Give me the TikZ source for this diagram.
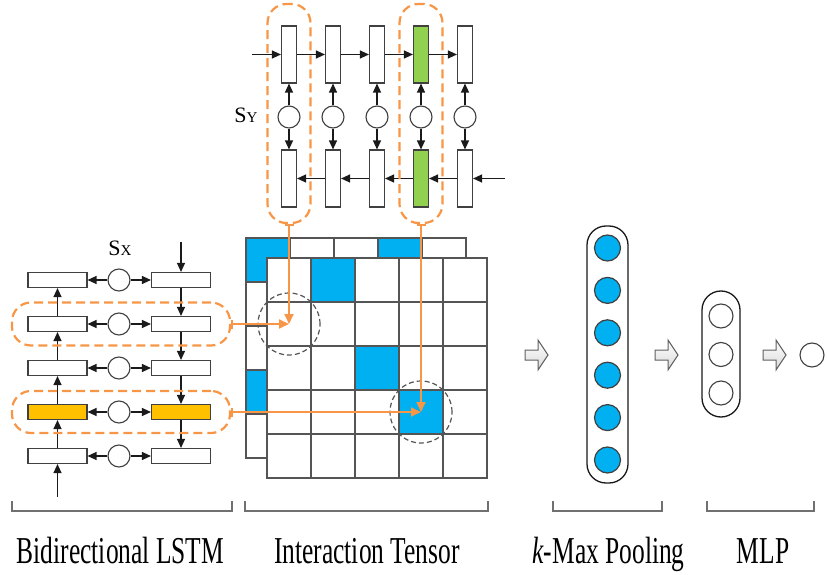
\documentclass[tikz,border=0pt]{standalone}
\usepackage{fontspec}
\setmainfont{Liberation Serif}
\newfontfamily\labfont[FakeStretch=0.67]{Liberation Serif}
\usetikzlibrary{arrows.meta,shapes.geometric,calc}
\definecolor{boxc}{HTML}{404040}
\definecolor{gridc}{HTML}{555555}
\definecolor{cblue}{HTML}{00B0F0}
\definecolor{cgreen}{HTML}{92D050}
\definecolor{cgold}{HTML}{FFC000}
\definecolor{corange}{HTML}{F79646}
\definecolor{brk}{HTML}{707070}
\definecolor{arrc}{HTML}{1A1A1A}
\begin{document}
\begin{tikzpicture}[x=1pt,y=-1pt,
  vbox/.style={draw=boxc,line width=1.1pt,minimum width=15pt,minimum height=57pt,inner sep=0pt},
  hbox/.style={draw=boxc,line width=1.1pt,minimum width=59pt,minimum height=15pt,inner sep=0pt},
  gate/.style={circle,draw=boxc,line width=1.1pt,fill=white,minimum size=22pt,inner sep=0pt},
  arr/.style={draw=arrc,line width=1.2pt,-{Triangle[length=9pt,width=8pt]}},
  cell/.style={draw=gridc,line width=1.1pt,minimum size=44pt,inner sep=0pt},
  dcirc/.style={circle,draw=gridc,dashed,dash pattern=on 5pt off 3pt,line width=1.2pt,minimum size=62pt,inner sep=0pt},
  orbox/.style={draw=corange,line width=2.2pt,dash pattern=on 9pt off 5pt,rounded corners=19pt,inner sep=0pt},
  oarr/.style={draw=corange,line width=1.8pt,{Bar[width=9pt]}-{Triangle[length=10pt,width=9pt]}},
  pcirc/.style={circle,draw=boxc,line width=1.2pt,fill=cblue,minimum size=26pt,inner sep=0pt},
  mcirc/.style={circle,draw=boxc,line width=1.1pt,fill=white,minimum size=24pt,inner sep=0pt},
  column/.style={draw=arrc,line width=1.3pt,rounded corners=19pt,inner sep=0pt},
  blockarr/.style={draw=gray!75!black,line width=1pt,line join=miter,top color=white,bottom color=gray!30},
  brack/.style={draw=brk,line width=1.4pt},
  lab/.style={font=\labfont\fontsize{38}{40}\selectfont,anchor=base,inner sep=0pt}
]
\useasboundingbox (0,0) rectangle (828,575);

% ---------- top bidirectional LSTM (S_Y) ----------
\foreach \i/\x/\f in {1/289/white,2/333/white,3/377/white,4/421/cgreen,5/465/white}{
  \node[vbox,fill=\f] (yt\i) at (\x,54.5) {};
  \node[gate] (yc\i) at (\x,117) {};
  \node[vbox,fill=\f] (yb\i) at (\x,178.5) {};
  \draw[arr] (yc\i) -- (yt\i);
  \draw[arr] (yc\i) -- (yb\i);
}
\coordinate (yin) at (252,54.5);
\coordinate (ybin) at (505,178.5);
\draw[arr] (yin) -- (yt1.west);
\foreach \a/\b in {1/2,2/3,3/4,4/5}{
  \draw[arr] (yt\a.east) -- (yt\b.west);
  \draw[arr] (yb\b.west) -- (yb\a.east);
}
\draw[arr] (ybin) -- (yb5.east);
\node (sy) at (246,115) {\fontsize{22}{24}\selectfont S\fontsize{15}{16}\selectfont Y};

% ---------- left bidirectional LSTM (S_X) ----------
\foreach \i/\y/\f in {1/280/white,2/324/white,3/368/white,4/412/cgold,5/456/white}{
  \node[hbox,fill=\f] (xl\i) at (57.5,\y) {};
  \node[gate] (xc\i) at (119,\y) {};
  \node[hbox,fill=\f] (xr\i) at (181,\y) {};
  \draw[arr] (xc\i) -- (xl\i);
  \draw[arr] (xc\i) -- (xr\i);
}
\coordinate (xlin) at (57.5,497);
\coordinate (xrin) at (181,242);
\draw[arr] (xlin) -- (xl5.south);
\draw[arr] (xrin) -- (xr1.north);
\foreach \a/\b in {1/2,2/3,3/4,4/5}{
  \draw[arr] (xl\b.north) -- (xl\a.south);
  \draw[arr] (xr\a.south) -- (xr\b.north);
}
\node (sx) at (120,248) {\fontsize{22}{24}\selectfont S\fontsize{15}{16}\selectfont X};

% ---------- interaction tensor ----------
\foreach \c in {0,...,4}{
  \pgfmathtruncatemacro\isb{(\c==0)||(\c==3)}
  \ifnum\isb=1 \def\fc{cblue}\else\def\fc{white}\fi
  \node[cell,fill=\fc] (b-0-\c) at ({268+44*\c},260) {};
}
\foreach \r in {1,...,4}{
  \pgfmathtruncatemacro\isb{(\r==3)}
  \ifnum\isb=1 \def\fc{cblue}\else\def\fc{white}\fi
  \node[cell,fill=\fc] (b-\r-0) at (268,{260+44*\r}) {};
}
\foreach \r in {0,...,4}{
  \foreach \c in {0,...,4}{
    \pgfmathtruncatemacro\isb{(\r==0&&\c==1)||(\r==2&&\c==2)||(\r==3&&\c==3)}
    \ifnum\isb=1 \def\fc{cblue}\else\def\fc{white}\fi
    \node[cell,fill=\fc] (f-\r-\c) at ({289+44*\c},{280+44*\r}) {};
  }
}
\node[dcirc] (dc1) at (f-1-0.center) {};
\node[dcirc] (dc2) at (f-3-3.center) {};

% ---------- orange selections ----------
\node[orbox,minimum width=43pt,minimum height=219pt] (ey1) at (289,113.5) {};
\node[orbox,minimum width=43pt,minimum height=219pt] (ey4) at (421,113.5) {};
\node[orbox,minimum width=218pt,minimum height=43pt] (ex2) at (121,324) {};
\node[orbox,minimum width=218pt,minimum height=42pt] (ex4) at (121,412) {};
\draw[oarr] (ey1.south) -- (ey1.south |- f-1-0.center);
\draw[oarr] (ex2.east) -- (ex2.east -| f-1-0.center);
\draw[oarr] (ey4.south) -- (ey4.south |- f-3-3.center);
\draw[oarr] (ex4.east) -- (ex4.east -| f-3-3.center);

% ---------- k-max pooling ----------
\node[column,minimum width=41pt,minimum height=257pt,fill=white] (pool) at (607.5,354.5) {};
\foreach \k in {0,...,5}{
  \node[pcirc] (p\k) at (607.5,{248+42.4*\k}) {};
}

% ---------- MLP ----------
\node[column,minimum width=38pt,minimum height=126pt,fill=white] (mlp) at (721,354) {};
\foreach \k in {0,1,2}{
  \node[mcirc] (m\k) at (721,{316+38.5*\k}) {};
}
\node[mcirc] (out) at (812,355) {};

% ---------- block arrows ----------
\foreach \n/\x in {ba1/525,ba2/655,ba3/763}{
  \coordinate (\n) at (\x,355);
  \draw[blockarr] (\n) ++(0,-5) -- ++(13,0) -- ++(0,-10) -- ++(10,15) -- ++(-10,15) -- ++(0,-10) -- ++(-13,0) -- cycle;
}

% ---------- brackets ----------
\draw[brack] (12,501) -- (12,511) -- (232,511) -- (232,501);
\draw[brack] (245,501) -- (245,511) -- (488,511) -- (488,501);
\draw[brack] (553,501) -- (553,511) -- (662,511) -- (662,501);
\draw[brack] (707,501) -- (707,511) -- (814,511) -- (814,501);

% ---------- labels ----------
\node[lab] (l1) at (120.5,563) {Bidirectional LSTM};
\node[lab] (l2) at (367,563) {Interaction Tensor};
\node[lab] (l3) at (608.5,563) {\textit{k}-Max Pooling};
\node[lab] (l4) at (763,563) {MLP};
\end{tikzpicture}
\end{document}
